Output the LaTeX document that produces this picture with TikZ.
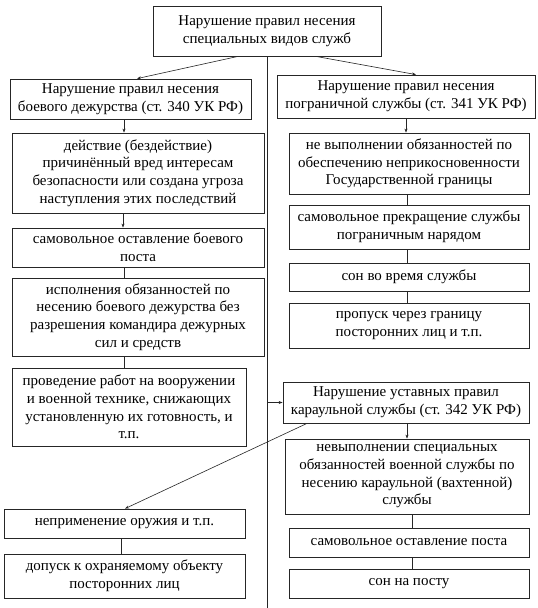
\documentclass[tikz,border=0pt]{standalone}
\usepackage{fontspec}
\setmainfont{Liberation Serif}
\usetikzlibrary{arrows.meta,shadows,calc}
\begin{document}
\begin{tikzpicture}[x=1pt,y=-1pt,
  box/.style={draw=black!85,line width=0.8pt,fill=white,align=center,inner sep=0pt,
    font=\fontsize{15}{17.7}\selectfont,
    drop shadow={shadow xshift=1.3pt,shadow yshift=-1.3pt,opacity=0.35}},
  arr/.style={draw=black!85,line width=0.6pt,-{Stealth[length=4pt,width=3pt]}},
  ln/.style={draw=black!85,line width=0.8pt}]
\useasboundingbox[fill=white] (0,0) rectangle (538,608);
\coordinate (bot) at (267,608);
\node[box,minimum width=228pt,minimum height=50pt] (T) at (267,31) {Нарушение правил несения\\специальных видов служб};
\node[box,minimum width=241pt,minimum height=40pt] (L1) at (130.5,99) {Нарушение правил несения\\боевого дежурства (ст. 340 УК РФ)};
\node[box,minimum width=258pt,minimum height=43pt] (R1) at (406,96.5) {Нарушение правил несения\\пограничной службы (ст. 341 УК РФ)};
\node[box,minimum width=252pt,minimum height=80pt] (L2) at (138,173) {действие (бездействие)\\причинённый вред интересам\\безопасности или создана угроза\\наступления этих последствий};
\node[box,minimum width=252pt,minimum height=39pt] (L3) at (138,247.5) {самовольное оставление боевого\\поста};
\node[box,minimum width=252pt,minimum height=78pt] (L4) at (138,317) {исполнения обязанностей по\\несению боевого дежурства без\\разрешения командира дежурных\\сил и средств};
\node[box,minimum width=234pt,minimum height=78pt] (L5) at (129,407) {проведение работ на вооружении\\и военной технике, снижающих\\установленную их готовность, и\\т.п.};
\node[box,minimum width=241pt,minimum height=29pt] (L6) at (124.5,523.5) {неприменение оружия и т.п.};
\node[box,minimum width=241pt,minimum height=44pt] (L7) at (124.5,576) {допуск к охраняемому объекту\\посторонних лиц};
\node[box,minimum width=240pt,minimum height=61pt] (R2) at (409,163.5) {не выполнении обязанностей по\\обеспечению неприкосновенности\\Государственной границы};
\node[box,minimum width=240pt,minimum height=44pt] (R3) at (409,227) {самовольное прекращение службы\\пограничным нарядом};
\node[box,minimum width=240pt,minimum height=28pt] (R4) at (409,277) {сон во время службы};
\node[box,minimum width=240pt,minimum height=45pt] (R5) at (409,325.5) {пропуск через границу\\посторонних лиц и т.п.};
\node[box,minimum width=246pt,minimum height=41pt] (R6) at (406,402.5) {Нарушение уставных правил\\караульной службы (ст. 342 УК РФ)};
\node[box,minimum width=244pt,minimum height=75pt] (R7) at (407,476.5) {невыполнении специальных\\обязанностей военной службы по\\несению караульной (вахтенной)\\службы};
\node[box,minimum width=240pt,minimum height=29pt] (R8) at (409,542.5) {самовольное оставление поста};
\node[box,minimum width=240pt,minimum height=29pt] (R9) at (409,583.5) {сон на посту};
% connectors
\draw[ln] (T.south) -- (T.south |- bot);
\draw[arr] ([xshift=-29pt]T.south) -- ([xshift=6.5pt]L1.north);
\draw[arr] ([xshift=49pt]T.south) -- ([xshift=10pt]R1.north);
\draw[arr] (T.south |- R6.west) -- (R6.west);
\draw[arr] ([xshift=-6.5pt]L1.south) -- ([xshift=-6.5pt]L1.south |- L2.north);
\draw[arr] ([xshift=-15pt]L2.south) -- ([xshift=-15pt]L2.south |- L3.north);
\draw[ln] ([xshift=-14pt]L3.south) -- ([xshift=-14pt]L3.south |- L4.north);
\draw[ln] ([xshift=-14pt]L4.south) -- ([xshift=-14pt]L4.south |- L5.north);
\draw[ln] ([xshift=-3.5pt]L6.south) -- ([xshift=-3.5pt]L6.south |- L7.north);
\draw[arr] (R1.south) -- (R1.south |- R2.north);
\draw[ln] ([xshift=-2pt]R2.south) -- ([xshift=-2pt]R2.south |- R3.north);
\draw[ln] ([xshift=-2pt]R3.south) -- ([xshift=-2pt]R3.south |- R4.north);
\draw[ln] ([xshift=-2pt]R4.south) -- ([xshift=-2pt]R4.south |- R5.north);
\draw[arr] ([xshift=1pt]R6.south) -- ([xshift=1pt]R6.south |- R7.north);
\draw[ln] ([xshift=5pt]R7.south) -- ([xshift=5pt]R7.south |- R8.north);
\draw[ln] ([xshift=3pt]R8.south) -- ([xshift=3pt]R8.south |- R9.north);
\draw[arr] ([xshift=-99pt]R6.south) -- ([xshift=0.5pt]L6.north);
\end{tikzpicture}
\end{document}
